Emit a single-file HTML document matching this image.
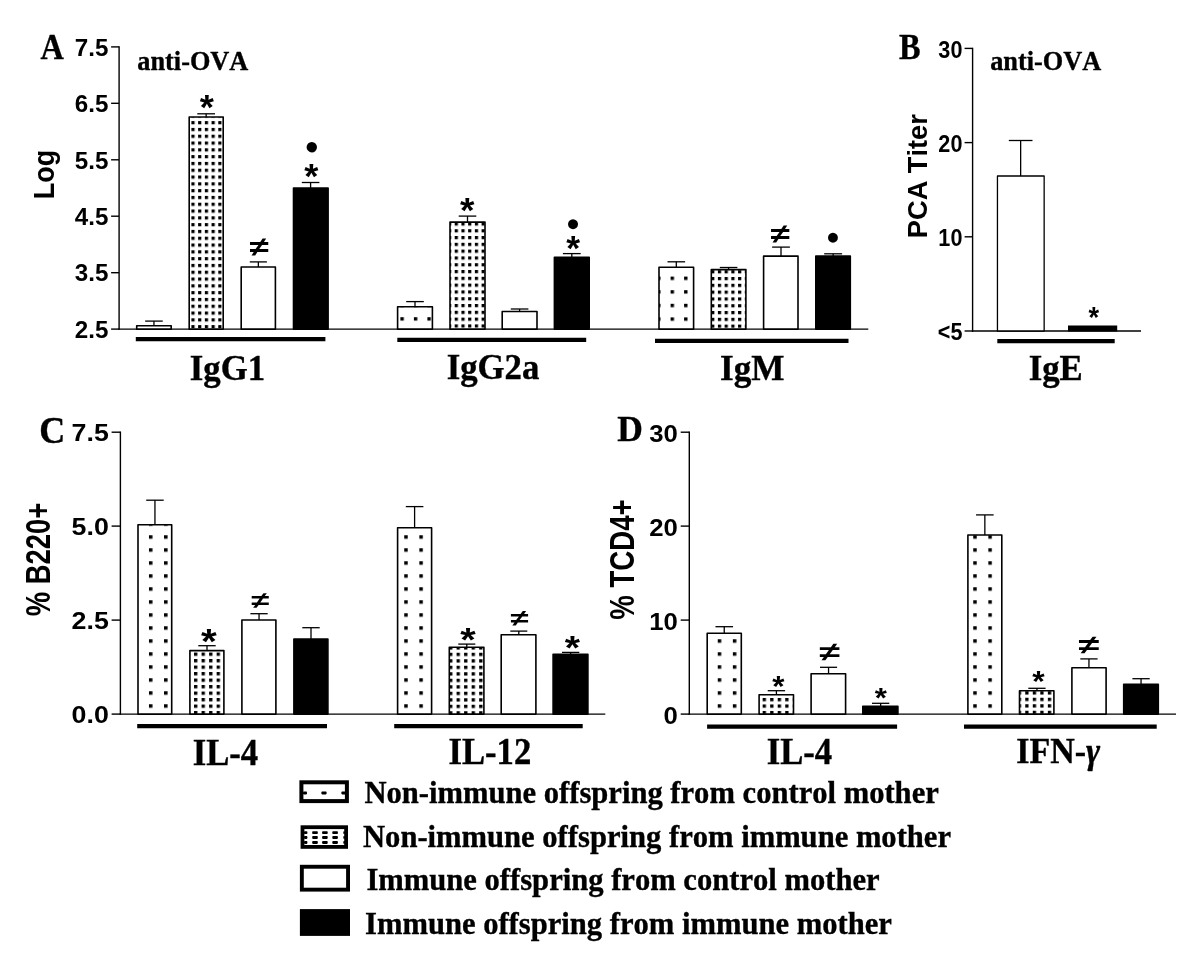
<!DOCTYPE html>
<html lang="en"><head><meta charset="utf-8"><title>Figure</title>
<style>
html,body{margin:0;padding:0;background:#fff;}
body{width:1200px;height:955px;overflow:hidden;}
svg{display:block;}
.ts{font-family:"Liberation Serif",serif;font-weight:bold;fill:#000;font-kerning:none;stroke:#000;stroke-width:0.35px;}
.ta{font-family:"Liberation Sans",sans-serif;font-weight:bold;fill:#000;font-kerning:none;}
.tr{font-family:"Liberation Sans",sans-serif;font-weight:normal;fill:#000;}
</style></head><body>
<svg width="1200" height="955" viewBox="0 0 1200 955">
<rect width="1200" height="955" fill="#fff"/>
<defs><pattern id="p1" patternUnits="userSpaceOnUse" x="191.40" y="121.10" width="6.72" height="6.8"><rect width="6.72" height="6.8" fill="#fff"/><rect width="3.2" height="3.2" fill="#000"/></pattern><pattern id="p2" patternUnits="userSpaceOnUse" x="400.40" y="317.20" width="13.5" height="13.6"><rect width="13.5" height="13.6" fill="#fff"/><rect width="3.4" height="3.4" fill="#000"/></pattern><pattern id="p3" patternUnits="userSpaceOnUse" x="454.70" y="222.40" width="6.72" height="6.8"><rect width="6.72" height="6.8" fill="#fff"/><rect width="3.2" height="3.2" fill="#000"/></pattern><pattern id="p4" patternUnits="userSpaceOnUse" x="670.60" y="276.60" width="13.5" height="13.6"><rect width="13.5" height="13.6" fill="#fff"/><rect width="3.4" height="3.4" fill="#000"/></pattern><pattern id="p5" patternUnits="userSpaceOnUse" x="717.90" y="277.00" width="6.72" height="6.8"><rect width="6.72" height="6.8" fill="#fff"/><rect width="3.2" height="3.2" fill="#000"/></pattern><pattern id="p6" patternUnits="userSpaceOnUse" x="148.95" y="535.25" width="15.1" height="13"><rect width="15.1" height="13" fill="#fff"/><rect width="3.5" height="3.5" fill="#000"/></pattern><pattern id="p7" patternUnits="userSpaceOnUse" x="194.05" y="652.55" width="7.53" height="6.5"><rect width="7.53" height="6.5" fill="#fff"/><rect width="3.3" height="3.3" fill="#000"/></pattern><pattern id="p8" patternUnits="userSpaceOnUse" x="404.25" y="535.25" width="15.1" height="13"><rect width="15.1" height="13" fill="#fff"/><rect width="3.5" height="3.5" fill="#000"/></pattern><pattern id="p9" patternUnits="userSpaceOnUse" x="449.05" y="652.75" width="7.53" height="6.5"><rect width="7.53" height="6.5" fill="#fff"/><rect width="3.3" height="3.3" fill="#000"/></pattern><pattern id="p10" patternUnits="userSpaceOnUse" x="717.75" y="639.25" width="15.1" height="13"><rect width="15.1" height="13" fill="#fff"/><rect width="3.5" height="3.5" fill="#000"/></pattern><pattern id="p11" patternUnits="userSpaceOnUse" x="762.65" y="697.95" width="7.53" height="6.5"><rect width="7.53" height="6.5" fill="#fff"/><rect width="3.3" height="3.3" fill="#000"/></pattern><pattern id="p12" patternUnits="userSpaceOnUse" x="973.25" y="535.25" width="15.1" height="13"><rect width="15.1" height="13" fill="#fff"/><rect width="3.5" height="3.5" fill="#000"/></pattern><pattern id="p13" patternUnits="userSpaceOnUse" x="1025.25" y="691.25" width="7.53" height="6.5"><rect width="7.53" height="6.5" fill="#fff"/><rect width="3.3" height="3.3" fill="#000"/></pattern></defs>
<line x1="119.10" y1="46.20" x2="119.10" y2="329.80" stroke="#000" stroke-width="1.4" stroke-linecap="butt"/>
<line x1="118.40" y1="329.10" x2="868.30" y2="329.10" stroke="#000" stroke-width="1.4" stroke-linecap="butt"/>
<line x1="111.10" y1="46.90" x2="119.10" y2="46.90" stroke="#000" stroke-width="1.4" stroke-linecap="butt"/>
<text class="ta" transform="translate(108.50 55.61) scale(1.0300 1.0000)" font-size="23.5" text-anchor="end">7.5</text>
<line x1="111.10" y1="103.30" x2="119.10" y2="103.30" stroke="#000" stroke-width="1.4" stroke-linecap="butt"/>
<text class="ta" transform="translate(108.50 112.01) scale(1.0300 1.0000)" font-size="23.5" text-anchor="end">6.5</text>
<line x1="111.10" y1="159.80" x2="119.10" y2="159.80" stroke="#000" stroke-width="1.4" stroke-linecap="butt"/>
<text class="ta" transform="translate(108.50 168.51) scale(1.0300 1.0000)" font-size="23.5" text-anchor="end">5.5</text>
<line x1="111.10" y1="216.20" x2="119.10" y2="216.20" stroke="#000" stroke-width="1.4" stroke-linecap="butt"/>
<text class="ta" transform="translate(108.50 224.91) scale(1.0300 1.0000)" font-size="23.5" text-anchor="end">4.5</text>
<line x1="111.10" y1="272.70" x2="119.10" y2="272.70" stroke="#000" stroke-width="1.4" stroke-linecap="butt"/>
<text class="ta" transform="translate(108.50 281.41) scale(1.0300 1.0000)" font-size="23.5" text-anchor="end">3.5</text>
<line x1="111.10" y1="329.10" x2="119.10" y2="329.10" stroke="#000" stroke-width="1.4" stroke-linecap="butt"/>
<text class="ta" transform="translate(108.50 337.81) scale(1.0300 1.0000)" font-size="23.5" text-anchor="end">2.5</text>
<text class="ts" transform="translate(40.50 58.70) scale(0.9500 1.0250)" font-size="34" text-anchor="start">A</text>
<text class="ts" transform="translate(137.30 69.50)" font-size="26.3" text-anchor="start">anti-OVA</text>
<text class="ta" transform="translate(54.10 174.60) rotate(-90) scale(1.0000 1.0800)" font-size="27" text-anchor="middle">Log</text>
<line x1="153.95" y1="321.10" x2="153.95" y2="325.70" stroke="#000" stroke-width="1.3" stroke-linecap="butt"/>
<line x1="145.15" y1="321.10" x2="162.75" y2="321.10" stroke="#000" stroke-width="1.3" stroke-linecap="butt"/>
<rect x="136.70" y="325.70" width="34.50" height="3.40" fill="#fff" stroke="#000" stroke-width="1.6" stroke-linejoin="round"/>
<line x1="206.15" y1="113.80" x2="206.15" y2="117.00" stroke="#000" stroke-width="1.3" stroke-linecap="butt"/>
<line x1="197.30" y1="113.80" x2="215.00" y2="113.80" stroke="#000" stroke-width="1.3" stroke-linecap="butt"/>
<rect x="189.20" y="117.00" width="34.00" height="212.10" fill="url(#p1)" stroke="#000" stroke-width="1.6" stroke-linejoin="round"/>
<line x1="258.35" y1="261.90" x2="258.35" y2="267.00" stroke="#000" stroke-width="1.3" stroke-linecap="butt"/>
<line x1="249.80" y1="261.90" x2="266.90" y2="261.90" stroke="#000" stroke-width="1.3" stroke-linecap="butt"/>
<rect x="241.20" y="267.00" width="34.20" height="62.10" fill="#fff" stroke="#000" stroke-width="1.6" stroke-linejoin="round"/>
<line x1="310.60" y1="182.50" x2="310.60" y2="188.00" stroke="#000" stroke-width="1.3" stroke-linecap="butt"/>
<line x1="301.80" y1="182.50" x2="319.40" y2="182.50" stroke="#000" stroke-width="1.3" stroke-linecap="butt"/>
<rect x="293.50" y="188.00" width="34.60" height="141.10" fill="#000" stroke="#000" stroke-width="1.6" stroke-linejoin="round"/>
<line x1="415.00" y1="301.60" x2="415.00" y2="306.70" stroke="#000" stroke-width="1.3" stroke-linecap="butt"/>
<line x1="406.20" y1="301.60" x2="423.80" y2="301.60" stroke="#000" stroke-width="1.3" stroke-linecap="butt"/>
<rect x="397.60" y="306.70" width="34.80" height="22.40" fill="url(#p2)" stroke="#000" stroke-width="1.6" stroke-linejoin="round"/>
<line x1="467.50" y1="216.10" x2="467.50" y2="222.10" stroke="#000" stroke-width="1.3" stroke-linecap="butt"/>
<line x1="458.70" y1="216.10" x2="476.30" y2="216.10" stroke="#000" stroke-width="1.3" stroke-linecap="butt"/>
<rect x="450.00" y="222.10" width="35.00" height="107.00" fill="url(#p3)" stroke="#000" stroke-width="1.6" stroke-linejoin="round"/>
<line x1="519.60" y1="309.00" x2="519.60" y2="311.50" stroke="#000" stroke-width="1.3" stroke-linecap="butt"/>
<line x1="510.80" y1="309.00" x2="528.40" y2="309.00" stroke="#000" stroke-width="1.3" stroke-linecap="butt"/>
<rect x="502.20" y="311.50" width="34.80" height="17.60" fill="#fff" stroke="#000" stroke-width="1.6" stroke-linejoin="round"/>
<line x1="571.80" y1="253.60" x2="571.80" y2="257.30" stroke="#000" stroke-width="1.3" stroke-linecap="butt"/>
<line x1="562.90" y1="253.60" x2="580.70" y2="253.60" stroke="#000" stroke-width="1.3" stroke-linecap="butt"/>
<rect x="554.40" y="257.30" width="34.80" height="71.80" fill="#000" stroke="#000" stroke-width="1.6" stroke-linejoin="round"/>
<line x1="676.30" y1="261.80" x2="676.30" y2="267.30" stroke="#000" stroke-width="1.3" stroke-linecap="butt"/>
<line x1="667.50" y1="261.80" x2="685.10" y2="261.80" stroke="#000" stroke-width="1.3" stroke-linecap="butt"/>
<rect x="659.00" y="267.30" width="34.60" height="61.80" fill="url(#p4)" stroke="#000" stroke-width="1.6" stroke-linejoin="round"/>
<line x1="728.60" y1="267.50" x2="728.60" y2="269.60" stroke="#000" stroke-width="1.3" stroke-linecap="butt"/>
<line x1="719.80" y1="267.50" x2="737.40" y2="267.50" stroke="#000" stroke-width="1.3" stroke-linecap="butt"/>
<rect x="711.30" y="269.60" width="34.60" height="59.50" fill="url(#p5)" stroke="#000" stroke-width="1.6" stroke-linejoin="round"/>
<line x1="781.00" y1="247.10" x2="781.00" y2="256.10" stroke="#000" stroke-width="1.3" stroke-linecap="butt"/>
<line x1="772.10" y1="247.10" x2="789.90" y2="247.10" stroke="#000" stroke-width="1.3" stroke-linecap="butt"/>
<rect x="763.60" y="256.10" width="34.40" height="73.00" fill="#fff" stroke="#000" stroke-width="1.6" stroke-linejoin="round"/>
<line x1="833.15" y1="253.80" x2="833.15" y2="256.00" stroke="#000" stroke-width="1.3" stroke-linecap="butt"/>
<line x1="824.20" y1="253.80" x2="842.10" y2="253.80" stroke="#000" stroke-width="1.3" stroke-linecap="butt"/>
<rect x="815.80" y="256.00" width="34.50" height="73.10" fill="#000" stroke="#000" stroke-width="1.6" stroke-linejoin="round"/>
<line x1="135.80" y1="339.20" x2="325.40" y2="339.20" stroke="#000" stroke-width="4.2" stroke-linecap="butt"/>
<line x1="397.30" y1="339.80" x2="586.20" y2="339.80" stroke="#000" stroke-width="4.2" stroke-linecap="butt"/>
<line x1="655.00" y1="340.80" x2="848.50" y2="340.80" stroke="#000" stroke-width="4.2" stroke-linecap="butt"/>
<text class="ts" transform="translate(227.50 379.60) scale(1.0230 1.0770)" font-size="34" text-anchor="middle">IgG1</text>
<text class="ts" transform="translate(493.00 379.30) scale(1.0230 1.0770)" font-size="34" text-anchor="middle">IgG2a</text>
<text class="ts" transform="translate(752.20 379.80) scale(1.0350 1.0770)" font-size="34" text-anchor="middle">IgM</text>
<text class="ta" transform="translate(199.69 119.22) scale(1.2113 1.1736)" font-size="30.0" text-anchor="start">*</text>
<text class="ta" transform="translate(249.30 255.50) scale(1.1708 0.9184)" font-size="30.0" text-anchor="start">≠</text>
<text class="ta" transform="translate(304.29 188.07) scale(1.2113 1.1467)" font-size="30.0" text-anchor="start">*</text>
<text class="ta" transform="translate(304.50 154.42) scale(0.8059 0.8059)" font-size="30.0" text-anchor="start">●</text>
<text class="ta" transform="translate(459.89 222.11) scale(1.2373 1.1826)" font-size="30.0" text-anchor="start">*</text>
<text class="ta" transform="translate(566.20 260.34) scale(1.1854 1.1647)" font-size="30.0" text-anchor="start">*</text>
<text class="ta" transform="translate(565.88 230.56) scale(0.7749 0.7749)" font-size="30.0" text-anchor="start">●</text>
<text class="ta" transform="translate(770.20 242.59) scale(1.1708 0.9131)" font-size="30.0" text-anchor="start">≠</text>
<text class="ta" transform="translate(826.05 244.49) scale(0.7671 0.7671)" font-size="30.0" text-anchor="start">●</text>
<line x1="972.60" y1="47.70" x2="972.60" y2="331.70" stroke="#000" stroke-width="1.4" stroke-linecap="butt"/>
<line x1="971.90" y1="331.00" x2="1141.00" y2="331.00" stroke="#000" stroke-width="1.4" stroke-linecap="butt"/>
<line x1="964.60" y1="48.40" x2="972.60" y2="48.40" stroke="#000" stroke-width="1.4" stroke-linecap="butt"/>
<text class="ta" transform="translate(962.40 57.67) scale(0.9200 1.0300)" font-size="23.5" text-anchor="end">30</text>
<line x1="964.60" y1="142.60" x2="972.60" y2="142.60" stroke="#000" stroke-width="1.4" stroke-linecap="butt"/>
<text class="ta" transform="translate(962.40 151.87) scale(0.9200 1.0300)" font-size="23.5" text-anchor="end">20</text>
<line x1="964.60" y1="236.80" x2="972.60" y2="236.80" stroke="#000" stroke-width="1.4" stroke-linecap="butt"/>
<text class="ta" transform="translate(962.40 246.07) scale(0.9200 1.0300)" font-size="23.5" text-anchor="end">10</text>
<line x1="964.60" y1="331.00" x2="972.60" y2="331.00" stroke="#000" stroke-width="1.4" stroke-linecap="butt"/>
<text class="ta" transform="translate(962.40 340.27) scale(0.9200 1.0300)" font-size="23.5" text-anchor="end">&lt;5</text>
<text class="ts" transform="translate(899.00 58.90) scale(0.9500 1.0480)" font-size="34" text-anchor="start">B</text>
<text class="ts" transform="translate(990.20 70.00)" font-size="26.3" text-anchor="start">anti-OVA</text>
<text class="ta" transform="translate(927.30 176.20) rotate(-90)" font-size="27.2" text-anchor="middle">PCA Titer</text>
<line x1="1020.65" y1="140.50" x2="1020.65" y2="176.00" stroke="#000" stroke-width="1.3" stroke-linecap="butt"/>
<line x1="1008.80" y1="140.50" x2="1032.50" y2="140.50" stroke="#000" stroke-width="1.3" stroke-linecap="butt"/>
<rect x="997.45" y="176.00" width="46.70" height="155.00" fill="#fff" stroke="#000" stroke-width="1.3" stroke-linejoin="round"/>
<rect x="1068" y="325.5" width="49.2" height="6" fill="#000"/>
<line x1="997.30" y1="341.10" x2="1114.70" y2="341.10" stroke="#000" stroke-width="4.3" stroke-linecap="butt"/>
<text class="ts" transform="translate(1055.70 380.00) scale(1.0230 1.0770)" font-size="34" text-anchor="middle">IgE</text>
<text class="ta" transform="translate(1088.42 326.79) scale(0.9085 0.9586)" font-size="30.0" text-anchor="start">*</text>
<line x1="120.40" y1="431.50" x2="120.40" y2="714.80" stroke="#000" stroke-width="1.4" stroke-linecap="butt"/>
<line x1="119.70" y1="714.10" x2="605.30" y2="714.10" stroke="#000" stroke-width="1.4" stroke-linecap="butt"/>
<line x1="111.60" y1="432.20" x2="120.40" y2="432.20" stroke="#000" stroke-width="1.4" stroke-linecap="butt"/>
<text class="ta" transform="translate(108.80 441.41) scale(1.1400 1.0000)" font-size="23.5" text-anchor="end">7.5</text>
<line x1="111.60" y1="526.10" x2="120.40" y2="526.10" stroke="#000" stroke-width="1.4" stroke-linecap="butt"/>
<text class="ta" transform="translate(108.80 535.31) scale(1.1400 1.0000)" font-size="23.5" text-anchor="end">5.0</text>
<line x1="111.60" y1="620.10" x2="120.40" y2="620.10" stroke="#000" stroke-width="1.4" stroke-linecap="butt"/>
<text class="ta" transform="translate(108.80 629.31) scale(1.1400 1.0000)" font-size="23.5" text-anchor="end">2.5</text>
<line x1="111.60" y1="714.10" x2="120.40" y2="714.10" stroke="#000" stroke-width="1.4" stroke-linecap="butt"/>
<text class="ta" transform="translate(108.80 723.31) scale(1.1400 1.0000)" font-size="23.5" text-anchor="end">0.0</text>
<text class="ts" transform="translate(39.20 442.50) scale(1.0600 1.1100)" font-size="34" text-anchor="start">C</text>
<text class="ta" transform="translate(49.80 559.60) rotate(-90) scale(1.0000 1.2500)" font-size="27.4" text-anchor="middle">% B220+</text>
<line x1="154.95" y1="500.20" x2="154.95" y2="524.70" stroke="#000" stroke-width="1.3" stroke-linecap="butt"/>
<line x1="146.20" y1="500.20" x2="163.70" y2="500.20" stroke="#000" stroke-width="1.3" stroke-linecap="butt"/>
<rect x="138.00" y="524.70" width="33.70" height="189.40" fill="url(#p6)" stroke="#000" stroke-width="1.6" stroke-linejoin="round"/>
<line x1="207.00" y1="645.70" x2="207.00" y2="650.60" stroke="#000" stroke-width="1.3" stroke-linecap="butt"/>
<line x1="198.30" y1="645.70" x2="215.70" y2="645.70" stroke="#000" stroke-width="1.3" stroke-linecap="butt"/>
<rect x="189.90" y="650.60" width="34.00" height="63.50" fill="url(#p7)" stroke="#000" stroke-width="1.6" stroke-linejoin="round"/>
<line x1="259.05" y1="613.70" x2="259.05" y2="620.00" stroke="#000" stroke-width="1.3" stroke-linecap="butt"/>
<line x1="250.40" y1="613.70" x2="267.70" y2="613.70" stroke="#000" stroke-width="1.3" stroke-linecap="butt"/>
<rect x="241.90" y="620.00" width="34.00" height="94.10" fill="#fff" stroke="#000" stroke-width="1.6" stroke-linejoin="round"/>
<line x1="311.00" y1="627.70" x2="311.00" y2="639.00" stroke="#000" stroke-width="1.3" stroke-linecap="butt"/>
<line x1="302.30" y1="627.70" x2="319.70" y2="627.70" stroke="#000" stroke-width="1.3" stroke-linecap="butt"/>
<rect x="293.90" y="639.00" width="34.00" height="75.10" fill="#000" stroke="#000" stroke-width="1.6" stroke-linejoin="round"/>
<line x1="414.60" y1="506.60" x2="414.60" y2="527.70" stroke="#000" stroke-width="1.3" stroke-linecap="butt"/>
<line x1="405.80" y1="506.60" x2="423.40" y2="506.60" stroke="#000" stroke-width="1.3" stroke-linecap="butt"/>
<rect x="397.60" y="527.70" width="34.00" height="186.40" fill="url(#p8)" stroke="#000" stroke-width="1.6" stroke-linejoin="round"/>
<line x1="466.80" y1="644.10" x2="466.80" y2="647.30" stroke="#000" stroke-width="1.3" stroke-linecap="butt"/>
<line x1="458.30" y1="644.10" x2="475.30" y2="644.10" stroke="#000" stroke-width="1.3" stroke-linecap="butt"/>
<rect x="449.30" y="647.30" width="34.60" height="66.80" fill="url(#p9)" stroke="#000" stroke-width="1.6" stroke-linejoin="round"/>
<line x1="518.80" y1="631.10" x2="518.80" y2="634.70" stroke="#000" stroke-width="1.3" stroke-linecap="butt"/>
<line x1="510.30" y1="631.10" x2="527.30" y2="631.10" stroke="#000" stroke-width="1.3" stroke-linecap="butt"/>
<rect x="501.20" y="634.70" width="34.70" height="79.40" fill="#fff" stroke="#000" stroke-width="1.6" stroke-linejoin="round"/>
<line x1="570.65" y1="652.40" x2="570.65" y2="654.30" stroke="#000" stroke-width="1.3" stroke-linecap="butt"/>
<line x1="562.00" y1="652.40" x2="579.30" y2="652.40" stroke="#000" stroke-width="1.3" stroke-linecap="butt"/>
<rect x="553.10" y="654.30" width="34.80" height="59.80" fill="#000" stroke="#000" stroke-width="1.6" stroke-linejoin="round"/>
<line x1="137.20" y1="726.20" x2="327.00" y2="726.20" stroke="#000" stroke-width="4.2" stroke-linecap="butt"/>
<line x1="394.20" y1="726.20" x2="582.70" y2="726.20" stroke="#000" stroke-width="4.2" stroke-linecap="butt"/>
<text class="ts" transform="translate(225.40 764.60) scale(1.0200 1.1200)" font-size="34" text-anchor="middle">IL-4</text>
<text class="ts" transform="translate(489.80 764.40) scale(1.0200 1.1200)" font-size="34" text-anchor="middle">IL-12</text>
<text class="ta" transform="translate(200.98 652.55) scale(1.3498 1.1557)" font-size="30.0" text-anchor="start">*</text>
<text class="ta" transform="translate(251.54 607.51) scale(1.0941 0.7644)" font-size="30.0" text-anchor="start">≠</text>
<text class="ta" transform="translate(460.28 650.78) scale(1.3238 1.1378)" font-size="30.0" text-anchor="start">*</text>
<text class="ta" transform="translate(510.63 626.12) scale(1.1005 0.7750)" font-size="30.0" text-anchor="start">≠</text>
<text class="ta" transform="translate(564.79 658.78) scale(1.3065 1.1378)" font-size="30.0" text-anchor="start">*</text>
<line x1="689.30" y1="431.50" x2="689.30" y2="714.80" stroke="#000" stroke-width="1.4" stroke-linecap="butt"/>
<line x1="688.60" y1="714.10" x2="1176.00" y2="714.10" stroke="#000" stroke-width="1.4" stroke-linecap="butt"/>
<line x1="680.70" y1="432.20" x2="689.30" y2="432.20" stroke="#000" stroke-width="1.4" stroke-linecap="butt"/>
<text class="ta" transform="translate(677.80 441.65) scale(1.0950 1.0400)" font-size="23.5" text-anchor="end">30</text>
<line x1="680.70" y1="526.10" x2="689.30" y2="526.10" stroke="#000" stroke-width="1.4" stroke-linecap="butt"/>
<text class="ta" transform="translate(677.80 535.55) scale(1.0950 1.0400)" font-size="23.5" text-anchor="end">20</text>
<line x1="680.70" y1="620.10" x2="689.30" y2="620.10" stroke="#000" stroke-width="1.4" stroke-linecap="butt"/>
<text class="ta" transform="translate(677.80 629.55) scale(1.0950 1.0400)" font-size="23.5" text-anchor="end">10</text>
<line x1="680.70" y1="714.10" x2="689.30" y2="714.10" stroke="#000" stroke-width="1.4" stroke-linecap="butt"/>
<text class="ta" transform="translate(677.80 723.55) scale(1.0950 1.0400)" font-size="23.5" text-anchor="end">0</text>
<text class="ts" transform="translate(617.20 441.00) scale(1.0440 1.0550)" font-size="34" text-anchor="start">D</text>
<text class="ta" transform="translate(633.80 559.60) rotate(-90) scale(1.0000 1.2500)" font-size="27.6" text-anchor="middle">% TCD4+</text>
<line x1="724.25" y1="626.70" x2="724.25" y2="633.20" stroke="#000" stroke-width="1.3" stroke-linecap="butt"/>
<line x1="715.45" y1="626.70" x2="733.05" y2="626.70" stroke="#000" stroke-width="1.3" stroke-linecap="butt"/>
<rect x="707.20" y="633.20" width="34.10" height="80.90" fill="url(#p10)" stroke="#000" stroke-width="1.6" stroke-linejoin="round"/>
<line x1="776.40" y1="690.70" x2="776.40" y2="694.70" stroke="#000" stroke-width="1.3" stroke-linecap="butt"/>
<line x1="767.70" y1="690.70" x2="785.10" y2="690.70" stroke="#000" stroke-width="1.3" stroke-linecap="butt"/>
<rect x="759.10" y="694.70" width="34.40" height="19.40" fill="url(#p11)" stroke="#000" stroke-width="1.6" stroke-linejoin="round"/>
<line x1="828.55" y1="667.30" x2="828.55" y2="673.70" stroke="#000" stroke-width="1.3" stroke-linecap="butt"/>
<line x1="820.00" y1="667.30" x2="837.10" y2="667.30" stroke="#000" stroke-width="1.3" stroke-linecap="butt"/>
<rect x="811.10" y="673.70" width="34.50" height="40.40" fill="#fff" stroke="#000" stroke-width="1.6" stroke-linejoin="round"/>
<line x1="880.65" y1="703.30" x2="880.65" y2="706.30" stroke="#000" stroke-width="1.3" stroke-linecap="butt"/>
<line x1="872.00" y1="703.30" x2="889.30" y2="703.30" stroke="#000" stroke-width="1.3" stroke-linecap="butt"/>
<rect x="862.80" y="706.30" width="35.10" height="7.80" fill="#000" stroke="#000" stroke-width="1.6" stroke-linejoin="round"/>
<line x1="984.85" y1="514.90" x2="984.85" y2="535.00" stroke="#000" stroke-width="1.3" stroke-linecap="butt"/>
<line x1="976.05" y1="514.90" x2="993.65" y2="514.90" stroke="#000" stroke-width="1.3" stroke-linecap="butt"/>
<rect x="967.90" y="535.00" width="33.90" height="179.10" fill="url(#p12)" stroke="#000" stroke-width="1.6" stroke-linejoin="round"/>
<line x1="1036.95" y1="688.30" x2="1036.95" y2="690.70" stroke="#000" stroke-width="1.3" stroke-linecap="butt"/>
<line x1="1028.30" y1="688.30" x2="1045.60" y2="688.30" stroke="#000" stroke-width="1.3" stroke-linecap="butt"/>
<rect x="1019.50" y="690.70" width="34.40" height="23.40" fill="url(#p13)" stroke="#000" stroke-width="1.6" stroke-linejoin="round"/>
<line x1="1088.95" y1="658.90" x2="1088.95" y2="667.70" stroke="#000" stroke-width="1.3" stroke-linecap="butt"/>
<line x1="1080.30" y1="658.90" x2="1097.60" y2="658.90" stroke="#000" stroke-width="1.3" stroke-linecap="butt"/>
<rect x="1071.90" y="667.70" width="34.20" height="46.40" fill="#fff" stroke="#000" stroke-width="1.6" stroke-linejoin="round"/>
<line x1="1141.05" y1="678.70" x2="1141.05" y2="684.30" stroke="#000" stroke-width="1.3" stroke-linecap="butt"/>
<line x1="1132.40" y1="678.70" x2="1149.70" y2="678.70" stroke="#000" stroke-width="1.3" stroke-linecap="butt"/>
<rect x="1123.70" y="684.30" width="34.60" height="29.80" fill="#000" stroke="#000" stroke-width="1.6" stroke-linejoin="round"/>
<line x1="707.10" y1="726.70" x2="897.10" y2="726.70" stroke="#000" stroke-width="4.2" stroke-linecap="butt"/>
<line x1="964.00" y1="726.60" x2="1156.70" y2="726.60" stroke="#000" stroke-width="4.2" stroke-linecap="butt"/>
<text class="ts" transform="translate(799.40 763.70) scale(1.0200 1.1200)" font-size="34" text-anchor="middle">IL-4</text>
<text class="ts" transform="translate(1058.20 763.00) scale(1.0000 1.0400)" font-size="34" text-anchor="middle">IFN-<tspan font-style="italic">γ</tspan></text>
<text class="ta" transform="translate(772.21 696.19) scale(1.0469 0.9586)" font-size="30.0" text-anchor="start">*</text>
<text class="ta" transform="translate(819.47 661.18) scale(1.2540 0.8865)" font-size="30.0" text-anchor="start">≠</text>
<text class="ta" transform="translate(874.81 707.30) scale(1.0383 0.9496)" font-size="30.0" text-anchor="start">*</text>
<text class="ta" transform="translate(1032.31 691.39) scale(1.0642 0.9586)" font-size="30.0" text-anchor="start">*</text>
<text class="ta" transform="translate(1078.76 654.18) scale(1.2668 0.8918)" font-size="30.0" text-anchor="start">≠</text>
<rect x="301.40" y="782.30" width="45.50" height="18.80" fill="#fff" stroke="#000" stroke-width="4"/>
<rect x="321.40" y="791.60" width="5.20" height="2.8" rx="0.8" fill="#000"/>
<rect x="303.00" y="791.60" width="4.00" height="2.8" rx="0.8" fill="#000"/>
<rect x="341.40" y="791.60" width="4.10" height="2.8" rx="0.8" fill="#000"/>
<rect x="302.50" y="827.20" width="43.60" height="19.70" fill="#fff" stroke="#000" stroke-width="3.8"/>
<rect x="312.20" y="831.20" width="5.60" height="2.8" rx="0.8" fill="#000"/>
<rect x="322.10" y="831.20" width="5.60" height="2.8" rx="0.8" fill="#000"/>
<rect x="332.30" y="831.20" width="5.60" height="2.8" rx="0.8" fill="#000"/>
<rect x="304.00" y="831.20" width="3.40" height="2.8" rx="0.8" fill="#000"/>
<rect x="343.30" y="831.20" width="1.70" height="2.8" rx="0.8" fill="#000"/>
<rect x="312.20" y="836.10" width="5.60" height="2.8" rx="0.8" fill="#000"/>
<rect x="322.10" y="836.10" width="5.60" height="2.8" rx="0.8" fill="#000"/>
<rect x="332.30" y="836.10" width="5.60" height="2.8" rx="0.8" fill="#000"/>
<rect x="304.00" y="836.10" width="3.40" height="2.8" rx="0.8" fill="#000"/>
<rect x="343.30" y="836.10" width="1.70" height="2.8" rx="0.8" fill="#000"/>
<rect x="312.20" y="841.10" width="5.60" height="2.8" rx="0.8" fill="#000"/>
<rect x="322.10" y="841.10" width="5.60" height="2.8" rx="0.8" fill="#000"/>
<rect x="332.30" y="841.10" width="5.60" height="2.8" rx="0.8" fill="#000"/>
<rect x="304.00" y="841.10" width="3.40" height="2.8" rx="0.8" fill="#000"/>
<rect x="343.30" y="841.10" width="1.70" height="2.8" rx="0.8" fill="#000"/>
<rect x="301.85" y="866.75" width="46.20" height="22.90" fill="#fff" stroke="#000" stroke-width="3.9"/>
<rect x="299.9" y="909.1" width="50.1" height="26.8" fill="#000"/>
<text class="ts" transform="translate(364.40 803.40)" font-size="30.6" text-anchor="start">Non-immune offspring from control mother</text>
<text class="ts" transform="translate(363.00 846.50)" font-size="30.6" text-anchor="start">Non-immune offspring from immune mother</text>
<text class="ts" transform="translate(366.40 890.40)" font-size="30.6" text-anchor="start">Immune offspring from control mother</text>
<text class="ts" transform="translate(365.00 934.40)" font-size="30.6" text-anchor="start">Immune offspring from immune mother</text>
</svg>
</body></html>
